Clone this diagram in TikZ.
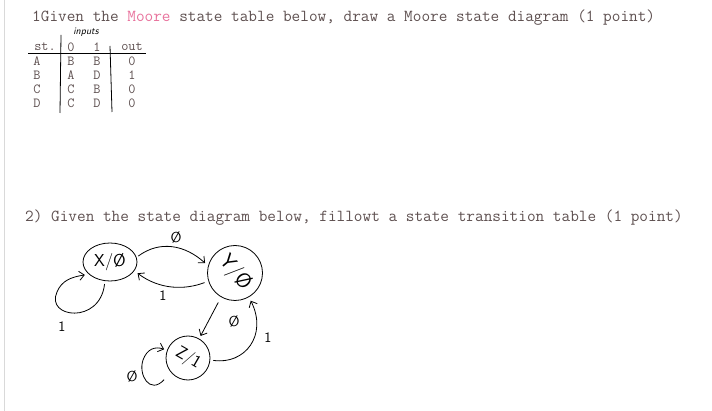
\documentclass[tikz,border=0pt]{standalone}
\usepackage{fontspec}
\usetikzlibrary{arrows.meta,shapes.geometric}
\definecolor{inkgrey}{HTML}{5E5050}
\definecolor{moorepink}{HTML}{E8729C}
\tikzset{
  typed/.style={inner sep=0pt,anchor=base west,text=inkgrey,font=\ttfamily\fontsize{16.8}{18}\selectfont},
  cell/.style={inner sep=0pt,text=inkgrey,font=\ttfamily\fontsize{13.9}{15}\selectfont},
  hand/.style={inner sep=0pt,font=\sffamily\Large},
  statetext/.style={inner sep=0pt,font=\sffamily\LARGE},
  state/.style={draw,thick,inner sep=0pt},
  wire/.style={thick,-{Straight Barb[length=5pt,width=9pt]}},
}
\begin{document}
\begin{tikzpicture}[x=1pt,y=-1pt]
  \useasboundingbox (0,0) rectangle (712,411);
  \draw[black!15] (4,0) -- (4,411); % page edge
  % Question 1
  \node[typed] (q1) at (32,22) {1Given the \textcolor{moorepink}{Moore} state table below, draw a Moore state diagram (1 point)};
  \node[hand,font=\sffamily\normalsize\itshape] (inputs) at (86,32) {inputs};
  \node[cell] (hst) at (45,47) {st.};
  \node[cell] (h0) at (71,47) {0};
  \node[cell] (h1) at (97,47) {1};
  \node[cell] (hout) at (132,47) {out};
  \foreach \st/\a/\b/\o [count=\i] in {A/B/B/0,B/A/D/1,C/C/B/0,D/C/D/0} {
    \node[cell] (s\i) at (37,47+14*\i) {\st};
    \node[cell] (a\i) at (71,47+14*\i) {\a};
    \node[cell] (b\i) at (97,47+14*\i) {\b};
    \node[cell] (o\i) at (132,47+14*\i) {\o};
  }
  \draw[thick] (28,53) -- (146,53); % header line
  \draw[thick] (61,35) -- (60,113);
  \draw[thick] (110,46) -- (112,112);
  % Question 2
  \node[typed] (q2) at (25,222) {2) Given the state diagram below, fillowt a state transition table (1 point)};
  % states
  \node[state,ellipse,minimum width=54pt,minimum height=38pt] (X) at (110,262) {};
  \node[statetext] (Xtext) at (X) {X/\O};
  \node[state,circle,minimum size=55pt] (Y) at (235,273) {};
  \node[statetext,font=\sffamily\huge,rotate=-50] (Ytext) at (Y) {Y/\O};
  \node[state,circle,minimum size=44pt] (Z) at (188,358) {};
  \node[statetext,rotate=-30] (Ztext) at (Z) {Z/1};
  % transitions
  \draw[wire,shorten <=2pt,shorten >=4pt] (X.10) .. controls (160,240) and (185,245) .. (Y.165);
  \node[hand] (l1) at (176,238) {\O};
  \draw[wire,shorten <=4pt,shorten >=4pt] (Y.197) .. controls (185,290) and (160,290) .. (X.-20);
  \node[hand] (l2) at (163,296) {1};
  \draw[wire,shorten <=3pt,shorten >=4pt] (X.-105) .. controls (100,325) and (45,318) .. (57,292)
    .. controls (62,280) and (72,277) .. (X.-150);
  \node[hand] (l3) at (62,327) {1};
  \draw[wire,shorten <=6pt,shorten >=3pt] (Y.-120) -- (Z.60);
  \node[hand] (l4) at (234,322) {\O};
  \draw[wire,shorten <=3pt,shorten >=4pt] (Z.-5) .. controls (245,365) and (268,335) .. (Y.-60);
  \node[hand] (l5) at (268,338) {1};
  \draw[wire,shorten <=10pt,shorten >=3pt] (Z.-140) .. controls (150,395) and (138,375) .. (143,360)
    .. controls (147,349) and (155,346) .. (Z.160);
  \node[hand] (l6) at (132,377) {\O};
\end{tikzpicture}
\end{document}
